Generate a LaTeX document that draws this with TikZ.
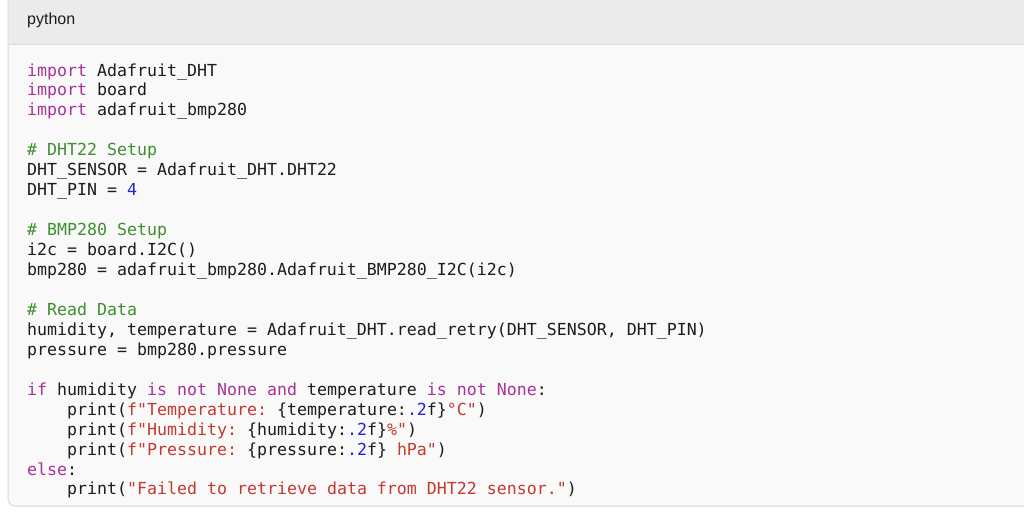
\documentclass[tikz,border=0pt]{standalone}
\usepackage{fontspec}
\newfontfamily\cf{DejaVu Sans Mono}
\setmainfont{Liberation Sans}
\definecolor{kw}{HTML}{A8329A}
\definecolor{cm}{HTML}{3F8F2F}
\definecolor{nm}{HTML}{2424D0}
\definecolor{st}{HTML}{C23A30}
\definecolor{tx}{HTML}{1C1C1C}
\newcommand\K[1]{\textcolor{kw}{#1}}
\newcommand\Cm[1]{\textcolor{cm}{#1}}
\newcommand\Nm[1]{\textcolor{nm}{#1}}
\newcommand\St[1]{\textcolor{st}{#1}}
\tikzset{code/.style={anchor=base west,inner sep=0pt,font=\cf\fontsize{16.6}{20}\selectfont,text=tx}}
\begin{document}
\begin{tikzpicture}[x=1pt,y=-1pt]
\useasboundingbox (0,0) rectangle (1024,514);
\fill[white] (0,0) rectangle (1024,514);
\begin{scope}
\clip (0,0) rectangle (1024,514);
\path[draw=black!15,fill=black!2.5,rounded corners=7pt,line width=1pt] (8,-10) rectangle (1040,506);
\path[fill=black!8] (8.5,0) rectangle (1024,44);
\draw[black!14] (8.5,44) -- (1024,44);
\end{scope}
\node[anchor=base west,inner sep=0pt,font=\fontsize{16}{18}\selectfont,text=tx] (hdr) at (27,24.5) {python};
\def\L#1{76+19.95*#1}
\node[code] (l0) at (27,{\L{0}}) {\K{import} Adafruit\_DHT};
\node[code] (l1) at (27,{\L{1}}) {\K{import} board};
\node[code] (l2) at (27,{\L{2}}) {\K{import} adafruit\_bmp280};
\node[code] (l4) at (27,{\L{4}}) {\Cm{\# DHT22 Setup}};
\node[code] (l5) at (27,{\L{5}}) {DHT\_SENSOR = Adafruit\_DHT.DHT22};
\node[code] (l6) at (27,{\L{6}}) {DHT\_PIN = \Nm{4}};
\node[code] (l8) at (27,{\L{8}}) {\Cm{\# BMP280 Setup}};
\node[code] (l9) at (27,{\L{9}}) {i2c = board.I2C()};
\node[code] (l10) at (27,{\L{10}}) {bmp280 = adafruit\_bmp280.Adafruit\_BMP280\_I2C(i2c)};
\node[code] (l12) at (27,{\L{12}}) {\Cm{\# Read Data}};
\node[code] (l13) at (27,{\L{13}}) {humidity, temperature = Adafruit\_DHT.read\_retry(DHT\_SENSOR, DHT\_PIN)};
\node[code] (l14) at (27,{\L{14}}) {pressure = bmp280.pressure};
\node[code] (l16) at (27,{\L{16}}) {\K{if} humidity \K{is not None and} temperature \K{is not None}:};
\node[code] (l17) at (67,{\L{17}}) {print(\St{f"Temperature:}\ \{temperature:\Nm{.2}f\}\St{°C"})};
\node[code] (l18) at (67,{\L{18}}) {print(\St{f"Humidity:}\ \{humidity:\Nm{.2}f\}\St{\%"})};
\node[code] (l19) at (67,{\L{19}}) {print(\St{f"Pressure:}\ \{pressure:\Nm{.2}f\}\ \St{hPa"})};
\node[code] (l20) at (27,{\L{20}}) {\K{else}:};
\node[code] (l21) at (67,{\L{21}}) {print(\St{"Failed to retrieve data from DHT22 sensor."})};
\end{tikzpicture}
\end{document}
